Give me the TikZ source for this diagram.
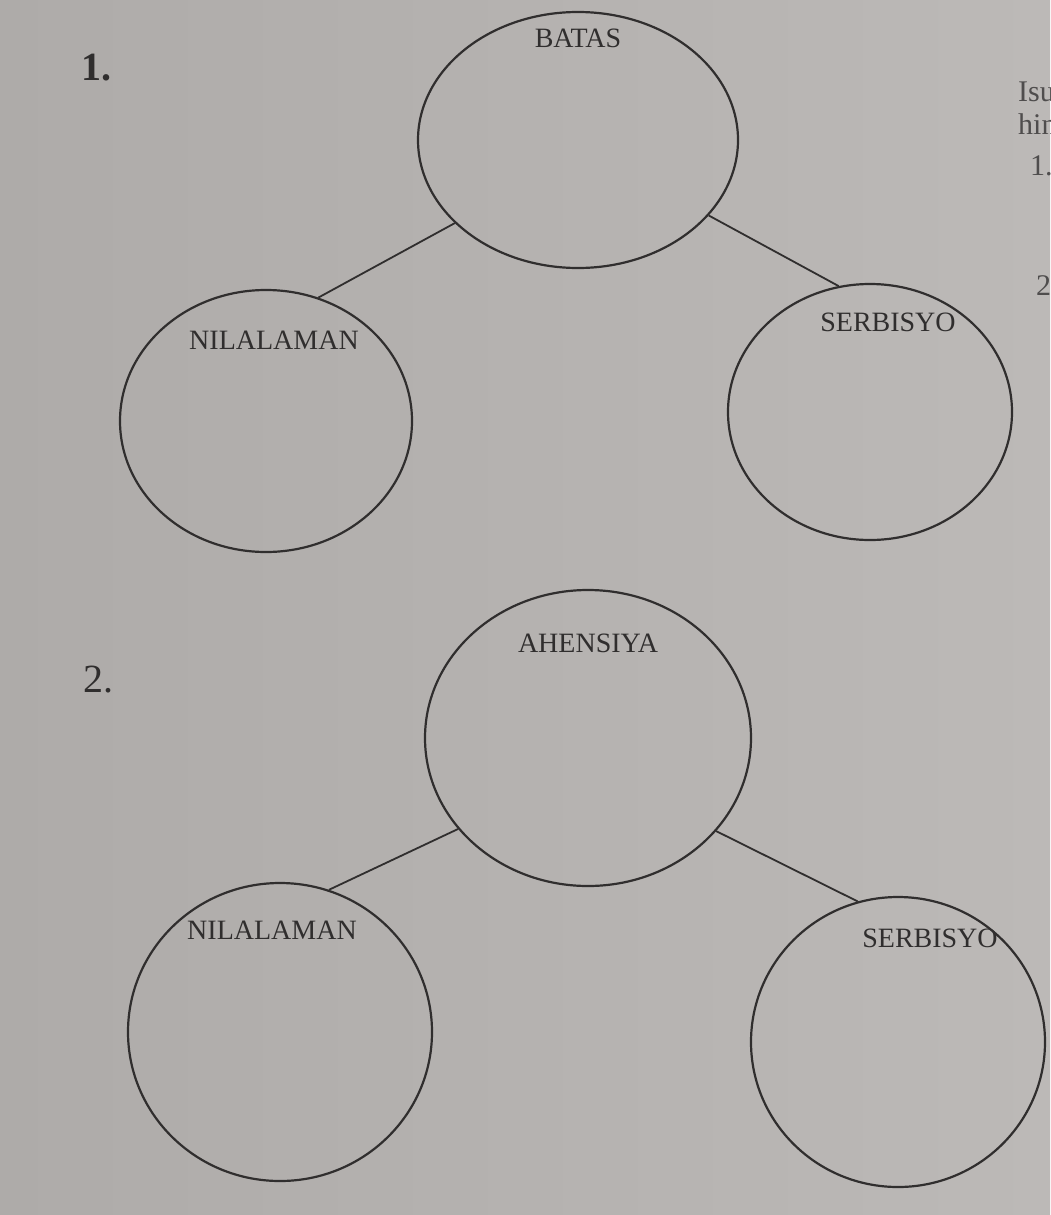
\documentclass[tikz,border=0pt]{standalone}
\usepackage{fontspec}
\setmainfont{Liberation Serif}
\usetikzlibrary{shapes.geometric}
\definecolor{ink}{RGB}{48,46,46}
\definecolor{paperL}{RGB}{174,171,169}
\definecolor{paperM}{RGB}{206,204,202}
\definecolor{paperR}{RGB}{188,185,183}
\tikzset{
  bubble/.style={ellipse, draw=ink, line width=2.2pt, inner sep=0pt},
  link/.style={draw=ink, line width=1.8pt},
  lbl/.style={text=ink, inner sep=0pt, font=\fontsize{28}{30}\selectfont},
  num/.style={text=ink, inner sep=0pt, font=\fontsize{40}{42}\selectfont},
  edge/.style={text=ink!85, inner sep=0pt, anchor=west, font=\fontsize{30}{32}\selectfont}
}
\begin{document}
\begin{tikzpicture}[x=1pt,y=-1pt]
\useasboundingbox (0,0) rectangle (1050,1215);
\shade[left color=paperL, middle color=paperM, right color=paperR] (0,0) rectangle (1050,1215);
% group 1
\node[bubble, minimum width=320pt, minimum height=256pt] (batas) at (578,140) {};
\node[bubble, minimum width=292pt, minimum height=262pt] (nil1) at (266,421) {};
\node[bubble, minimum width=284pt, minimum height=256pt] (ser1) at (870,412) {};
\draw[link] (batas.214) -- (nil1.67);
\draw[link] (batas.330) -- (ser1.104);
\node[num] (n1) at (96,68) {\textbf{1.}};
\node[lbl] (tbatas) at (578,38) {BATAS};
\node[lbl] (tnil1) at (274,340) {NILALAMAN};
\node[lbl] (tser1) at (888,322) {SERBISYO};
% group 2
\node[bubble, minimum width=326pt, minimum height=296pt] (ahen) at (588,738) {};
\node[bubble, minimum width=304pt, minimum height=298pt] (nil2) at (280,1032) {};
\node[bubble, minimum width=294pt, minimum height=290pt] (ser2) at (898,1042) {};
\draw[link] (ahen.215) -- (nil2.71);
\draw[link] (ahen.324) -- (ser2.106);
\node[num] (n2) at (98,680) {2.};
\node[lbl] (tahen) at (588,643) {AHENSIYA};
\node[lbl] (tnil2) at (272,930) {NILALAMAN};
\node[lbl] (tser2) at (930,938) {SERBISYO};
% text cut off by the right edge, as in the photo
\begin{scope}
\clip (0,0) rectangle (1050,1215);
\node[edge] (e1) at (1018,92) {Isu};
\node[edge] (e2) at (1018,124) {hin};
\node[edge] (e3) at (1030,166) {1.};
\node[edge] (e4) at (1036,286) {2};
\end{scope}
\end{tikzpicture}
\end{document}
